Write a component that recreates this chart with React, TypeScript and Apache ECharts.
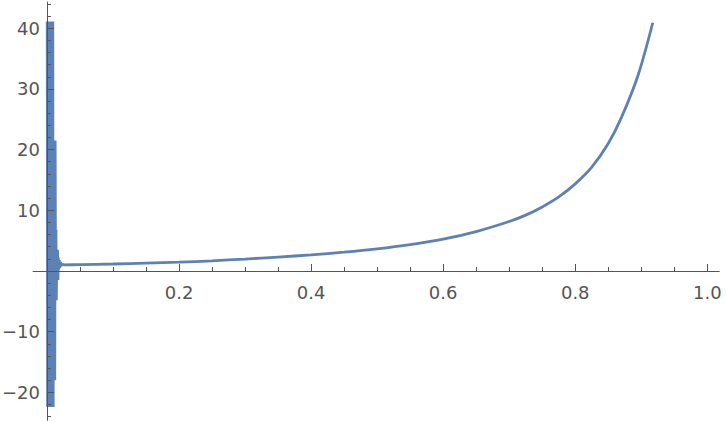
import React, { useEffect, useRef } from "react";
import * as echarts from "echarts";

// Dense oscillation near x = 0
const bandX = [
  0.0004, 0.001, 0.0016, 0.0022, 0.0028, 0.0034, 0.004, 0.0046, 0.0052, 0.0058,
  0.0064, 0.007, 0.0076, 0.0082, 0.0088, 0.0094, 0.01, 0.0106, 0.0112, 0.0118,
  0.0124, 0.013, 0.0136, 0.0142, 0.0148, 0.0154, 0.016, 0.0166, 0.0172, 0.0178,
  0.0186, 0.0194, 0.0204, 0.0214, 0.0226, 0.0238,
];
const bandY = [
  41.1, -22.4, 41.1, -22.4, 41.1, -22.4, 41.1, -22.4, 41.1, -22.4,
  41.1, -22.4, 41.1, -22.4, 41.1, -22.4, 21.5, -18.0, 21.5, -18.0,
  21.5, -4.8, 6.8, -4.8, 3.5, -1.5, 3.5, -1.5, 2.2, 0.2,
  1.8, 0.5, 1.5, 0.8, 1.2, 1.0,
];

// Smooth rising branch
const curveX = [
  0.0238, 0.05, 0.1, 0.15, 0.2, 0.25, 0.3, 0.35, 0.4, 0.45, 0.5, 0.55, 0.6,
  0.65, 0.7, 0.725, 0.75, 0.775, 0.8, 0.825, 0.85, 0.87, 0.895, 0.9174,
];
const curveY = [
  1.0, 1.05, 1.15, 1.3, 1.45, 1.68, 1.97, 2.3, 2.65, 3.1, 3.65, 4.35, 5.25,
  6.5, 8.15, 9.2, 10.55, 12.2, 14.35, 17.1, 21.0, 25.3, 32.2, 40.9,
];

const xMajorTicks = [0.2, 0.4, 0.6, 0.8, 1.0];
const xMinorTicks = [
  0.05, 0.1, 0.15, 0.25, 0.3, 0.35, 0.45, 0.5, 0.55, 0.65, 0.7, 0.75, 0.85, 0.9, 0.95,
];
const yMajorTicks = [-20, -10, 10, 20, 30, 40];
const yMinorTicks = [
  -24, -22, -18, -16, -14, -12, -8, -6, -4, -2, 2, 4, 6, 8, 12, 14, 16, 18,
  22, 24, 26, 28, 32, 34, 36, 38, 42, 44,
];

const X_MIN = -0.021;
const X_MAX = 1.018;
const Y_MIN = -24.6;
const Y_MAX = 44.3;

export default function App() {
  const ref = useRef<HTMLDivElement>(null);

  useEffect(() => {
    if (!ref.current) return;
    const chart = echarts.init(ref.current, null, { renderer: "svg" });
    const axisColor = "#555555";
    const lineColor = "#5e81b5";
    const labelStyle = {
      color: "#555555",
      fontFamily: "DejaVu Sans",
      fontSize: 18,
    };
    const fmtY = (v: number) => (v < 0 ? "\u2212" + String(-v) : String(v));

    // main grid geometry (pixels)
    const W = 726;
    const H = 421;
    const gLeft = 33.1;
    const gRight = 6.8;
    const gTop = 2.1;
    const gBottom = 0.7;
    const plotW = W - gLeft - gRight;
    const plotH = H - gTop - gBottom;
    const zeroX = gLeft + ((0 - X_MIN) / (X_MAX - X_MIN)) * plotW;
    const zeroY = gTop + ((Y_MAX - 0) / (Y_MAX - Y_MIN)) * plotH;

    const hiddenAxis = (gridIndex: number) => ({
      type: "value",
      gridIndex,
      show: false,
      min: 0,
      max: 1,
    });

    chart.setOption({
      animation: false,
      grid: [
        { left: gLeft, right: gRight, top: gTop, bottom: gBottom, containLabel: false, outerBoundsMode: "none" },
        // grid whose left edge sits on x = 0: carries the y labels
        { left: zeroX, right: gRight, top: gTop, bottom: gBottom, containLabel: false, outerBoundsMode: "none" },
        // grid whose bottom edge sits on y = 0: carries the x labels
        { left: gLeft, right: gRight, top: gTop, bottom: H - zeroY, containLabel: false, outerBoundsMode: "none" },
      ],
      xAxis: [
        {
          type: "value",
          gridIndex: 0,
          min: X_MIN,
          max: X_MAX,
          position: "bottom",
          z: 5,
          splitLine: { show: false },
          axisLine: {
            show: true,
            onZero: true,
            onZeroAxisIndex: 0,
            lineStyle: { color: axisColor, width: 1 },
          },
          axisTick: {
            show: true,
            inside: true,
            length: 7,
            customValues: xMajorTicks,
            lineStyle: { color: axisColor, width: 1 },
          },
          axisLabel: { show: false },
        },
        {
          type: "value",
          gridIndex: 0,
          min: X_MIN,
          max: X_MAX,
          position: "bottom",
          z: 5,
          splitLine: { show: false },
          axisLine: { show: false, onZero: true, onZeroAxisIndex: 0 },
          axisTick: {
            show: true,
            inside: true,
            length: 4,
            customValues: xMinorTicks,
            lineStyle: { color: axisColor, width: 1 },
          },
          axisLabel: { show: false },
        },
        hiddenAxis(1),
        {
          type: "value",
          gridIndex: 2,
          min: X_MIN,
          max: X_MAX,
          position: "bottom",
          splitLine: { show: false },
          axisLine: { show: false, onZero: false },
          axisTick: { show: false },
          axisLabel: {
            show: true,
            customValues: xMajorTicks,
            formatter: (v: number) => v.toFixed(1),
            margin: 13,
            ...labelStyle,
          },
        },
      ],
      yAxis: [
        {
          type: "value",
          gridIndex: 0,
          min: Y_MIN,
          max: Y_MAX,
          position: "left",
          z: 5,
          splitLine: { show: false },
          axisLine: {
            show: true,
            onZero: true,
            onZeroAxisIndex: 0,
            lineStyle: { color: axisColor, width: 1 },
          },
          axisTick: {
            show: true,
            inside: true,
            length: 7,
            customValues: yMajorTicks,
            lineStyle: { color: axisColor, width: 1 },
          },
          axisLabel: { show: false },
        },
        {
          type: "value",
          gridIndex: 0,
          min: Y_MIN,
          max: Y_MAX,
          position: "left",
          z: 5,
          splitLine: { show: false },
          axisLine: { show: false, onZero: true, onZeroAxisIndex: 0 },
          axisTick: {
            show: true,
            inside: true,
            length: 4,
            customValues: yMinorTicks,
            lineStyle: { color: axisColor, width: 1 },
          },
          axisLabel: { show: false },
        },
        {
          type: "value",
          gridIndex: 1,
          min: Y_MIN,
          max: Y_MAX,
          position: "left",
          splitLine: { show: false },
          axisLine: { show: false, onZero: false },
          axisTick: { show: false },
          axisLabel: {
            show: true,
            customValues: yMajorTicks,
            formatter: fmtY,
            margin: 7,
            ...labelStyle,
          },
        },
        hiddenAxis(2),
      ],
      series: [
        {
          type: "line",
          xAxisIndex: 0,
          yAxisIndex: 0,
          data: bandX.map((x, i) => [x, bandY[i]]),
          symbol: "none",
          showSymbol: false,
          z: 2,
          lineStyle: { color: lineColor, width: 2.8, join: "bevel" },
        },
        {
          type: "line",
          xAxisIndex: 0,
          yAxisIndex: 0,
          data: curveX.map((x, i) => [x, curveY[i]]),
          symbol: "none",
          showSymbol: false,
          smooth: 0.3,
          z: 2,
          lineStyle: { color: lineColor, width: 2.8, cap: "butt" },
        },
      ],
    });

    return () => chart.dispose();
  }, []);

  return (
    <div
      ref={ref}
      style={{
        position: "fixed",
        left: 0,
        top: 0,
        width: 726,
        height: 421,
        background: "#ffffff",
      }}
    />
  );
}
